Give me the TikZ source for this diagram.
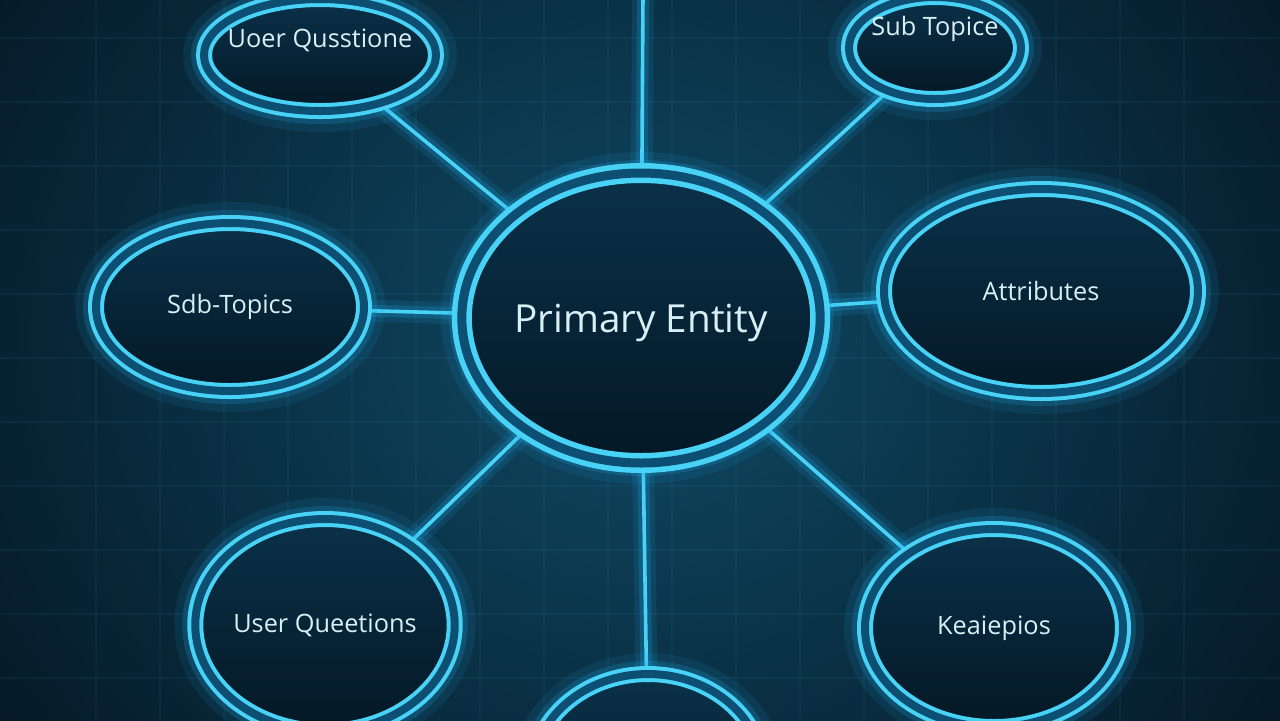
\documentclass[tikz,border=0pt]{standalone}
\usepackage{fontspec}
\setmainfont{Open Sans}
\usetikzlibrary{shapes.geometric,fadings}
\definecolor{neon}{HTML}{48D2F6}
\definecolor{neonglow}{HTML}{1FA8E6}
\definecolor{filltop}{HTML}{0A3149}
\definecolor{fillbot}{HTML}{041825}
\definecolor{gapc}{HTML}{0D4F72}
\definecolor{bgmid}{HTML}{0F4A66}
\definecolor{bgedge}{HTML}{04121D}
\definecolor{gridc}{HTML}{3FA9D0}
\definecolor{txt}{HTML}{D8EFF6}
\pgfdeclarelayer{bg}
\pgfdeclarelayer{edges}
\pgfsetlayers{bg,edges,main}
\tikzset{
  ring/.style={ellipse, inner sep=0pt, outer sep=0pt, top color=filltop, bottom color=fillbot,
    draw=neon, line width=0.40mm, double=gapc, double distance=0.8mm, text=txt,
    font=\fontsize{7.2}{8}\selectfont,
    preaction={draw=neonglow, draw opacity=0.10, line width=4.2mm},
    preaction={draw=neonglow, draw opacity=0.20, line width=2.6mm}},
  bigring/.style={ring, line width=0.55mm, double distance=0.9mm, text depth=0pt,
    font=\fontsize{11}{13}\selectfont},
  link/.style={draw=neon, line width=0.36mm,
    preaction={draw=neonglow, draw opacity=0.12, line width=2.2mm},
    preaction={draw=neonglow, draw opacity=0.22, line width=1.2mm}},
  lbl/.style={text=txt, font=\fontsize{7.2}{8}\selectfont, inner sep=0pt},
  gridline/.style={gridc, line width=0.12mm, opacity=0.07}
}
\begin{document}
\begin{tikzpicture}[x=0.1mm,y=-0.1mm]
\useasboundingbox (0,0) rectangle (1280,720);
\begin{pgfonlayer}{bg}
  \fill[bgedge] (0,0) rectangle (1280,720);
  \shade[inner color=bgmid, outer color=bgedge] (-260,-440) rectangle (1540,1120);
  \foreach \gx in {96,160,...,1184} {\draw[gridline] (\gx,0) -- (\gx,720);}
  \foreach \gy in {38,102,...,720} {\draw[gridline] (0,\gy) -- (1280,\gy);}
\end{pgfonlayer}

% nodes
\node[bigring, minimum width=32.8mm, minimum height=29.0mm] (pe) at (641,318) {Primary Entity};
\node[ring, minimum width=23.2mm, minimum height=11.2mm,
      label={[lbl, yshift=1.5mm]center:Uoer Qusstione}] (uq1) at (320,55) {};
\node[ring, minimum width=17.2mm, minimum height=10.2mm,
      label={[lbl, yshift=1.9mm]center:Sub Topice}] (st1) at (935,48) {};
\node[ring, minimum width=31.4mm, minimum height=20.4mm] (attr) at (1041,291) {Attributes};
\node[ring, minimum width=26.8mm, minimum height=16.8mm] (st2) at (230,307) {Sdb-Topics};
\node[ring, minimum width=24.2mm, minimum height=21.2mm] (uq2) at (325,625) {User Queetions};
\node[ring, minimum width=25.8mm, minimum height=19.8mm] (kea) at (994,628) {Keaiepios};
\node[ring, minimum width=23.2mm, minimum height=20.2mm] (bot) at (648,775) {};
\coordinate (topc) at (643,-5);

% connectors
\begin{pgfonlayer}{edges}
  \path[link] (topc) -- (pe);
  \path[link] (uq1) -- (pe);
  \path[link] (st1) -- (pe);
  \path[link] (st2) -- (pe);
  \path[link] (attr) -- (pe);
  \path[link] (uq2) -- (pe);
  \path[link] (kea) -- (pe);
  \path[link] (bot) -- (pe);
\end{pgfonlayer}
\end{tikzpicture}
\end{document}
